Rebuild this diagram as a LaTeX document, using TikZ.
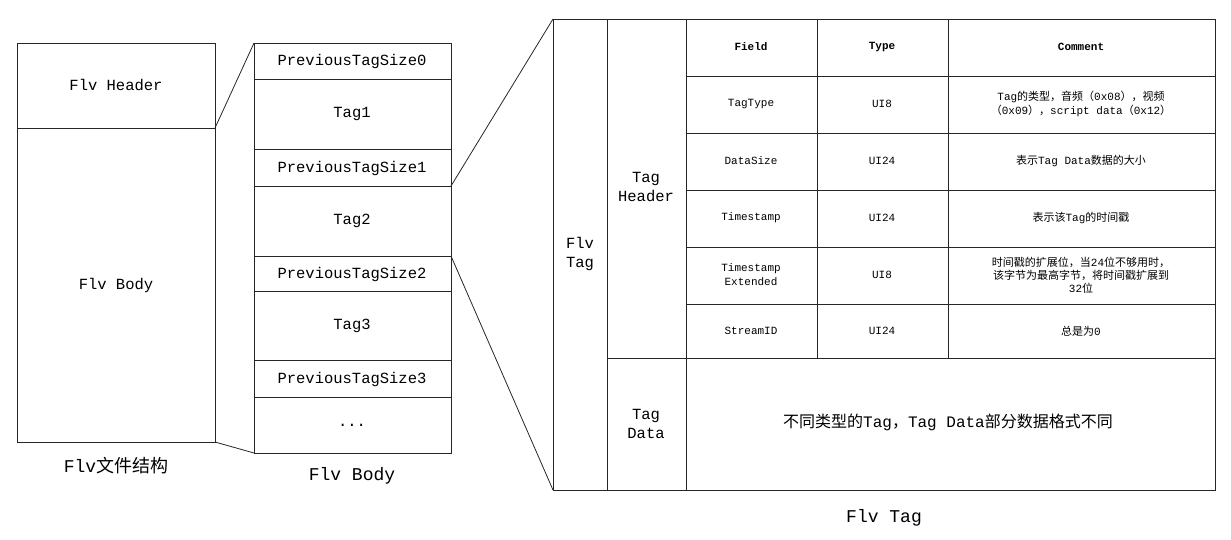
\documentclass[tikz,border=0pt]{standalone}
\usepackage{fontspec}
\setmainfont{Liberation Mono}
\newfontfamily\cjk{Noto Sans CJK SC}
\begin{document}
\begin{tikzpicture}[x=1pt,y=-1pt,
  box/.style={draw=black!85,line width=1pt,inner sep=0pt},
  txt/.style={font=\fontsize{15.5}{19}\selectfont,align=center},
  sm/.style={font=\fontsize{11}{14}\selectfont,align=center},
  hd/.style={font=\fontsize{11}{14}\selectfont\bfseries},
  captxt/.style={font=\fontsize{18}{21}\selectfont},
  fan/.style={draw=black!85,line width=0.8pt}]
\useasboundingbox (0,0) rectangle (1231,539);
% left file structure
\draw[box] (17,43) rectangle (215,442);
\draw[box] (17,128) -- (215,128);
\coordinate (hb) at (215,128); \coordinate (lb) at (215,442);
\node[txt] (fh) at (116,85) {Flv Header};
\node[txt] (fb) at (116,285) {Flv Body};
\node[captxt] (c1) at (116,466) {Flv{\cjk 文件结构}};
% middle body
\draw[box] (254,43) rectangle (451,453);
\foreach \y in {79,149,186,256,291,360,397} \draw[box] (254,\y) -- (451,\y);
\coordinate (mt) at (254,43); \coordinate (mb) at (254,453);
\coordinate (m1) at (451,186); \coordinate (m2) at (451,256);
\node[txt] (p0) at (352,61) {PreviousTagSize0};
\node[txt] (t1) at (352,114) {Tag1};
\node[txt] (p1) at (352,168) {PreviousTagSize1};
\node[txt] (t2) at (352,221) {Tag2};
\node[txt] (p2) at (352,274) {PreviousTagSize2};
\node[txt] (t3) at (352,326) {Tag3};
\node[txt] (p3) at (352,379) {PreviousTagSize3};
\node[txt] (dd) at (352,425) {...};
\node[captxt] (c2) at (352,476) {Flv Body};
% right tag
\draw[box] (553,19) rectangle (1215,490);
\draw[box] (607,19) -- (607,490);
\draw[box] (686,19) -- (686,490);
\draw[box] (607,358) -- (1215,358);
\draw[box] (817,19) -- (817,358);
\draw[box] (948,19) -- (948,358);
\foreach \y in {76,133,190,247,304} \draw[box] (686,\y) -- (1215,\y);
\coordinate (rt) at (553,19); \coordinate (rb) at (553,490);
\node[txt] (ft) at (580,254) {Flv\\Tag};
\node[txt] (th) at (646,187) {Tag\\Header};
\node[txt] (tdl) at (646,424) {Tag\\Data};
\node[hd] (f0) at (751,47) {Field};
\node[hd] (f1) at (882,47) {Type};
\node[hd] (f2) at (1081,47) {Comment};
\node[sm] (a0) at (751,104) {TagType};
\node[sm] (a1) at (882,104) {UI8};
\node[sm] (a2) at (1081,104) {Tag{\cjk 的类型，音频（}0x08{\cjk ），视频}\\{\cjk （}0x09{\cjk ），}script data{\cjk （}0x12{\cjk ）}};
\node[sm] (b0) at (751,161) {DataSize};
\node[sm] (b1) at (882,161) {UI24};
\node[sm] (b2) at (1081,161) {{\cjk 表示}Tag Data{\cjk 数据的大小}};
\node[sm] (d0) at (751,218) {Timestamp};
\node[sm] (d1) at (882,218) {UI24};
\node[sm] (d2) at (1081,218) {{\cjk 表示该}Tag{\cjk 的时间戳}};
\node[sm] (e0) at (751,275) {Timestamp\\Extended};
\node[sm] (e1) at (882,275) {UI8};
\node[sm,font=\fontsize{11}{13}\selectfont] (e2) at (1081,275) {{\cjk 时间戳的扩展位，当}24{\cjk 位不够用时，}\\{\cjk 该字节为最高字节，将时间戳扩展到}\\32{\cjk 位}};
\node[sm] (g0) at (751,331) {StreamID};
\node[sm] (g1) at (882,331) {UI24};
\node[sm] (g2) at (1081,331) {{\cjk 总是为}0};
\node[font=\fontsize{16}{19}\selectfont] (dat) at (948,422) {{\cjk 不同类型的}Tag{\cjk ，}Tag Data{\cjk 部分数据格式不同}};
\node[captxt] (c3) at (884,518) {Flv Tag};
% fan lines
\draw[fan] (hb) -- (mt);
\draw[fan] (lb) -- (mb);
\draw[fan] (m1) -- (rt);
\draw[fan] (m2) -- (rb);
\end{tikzpicture}
\end{document}
